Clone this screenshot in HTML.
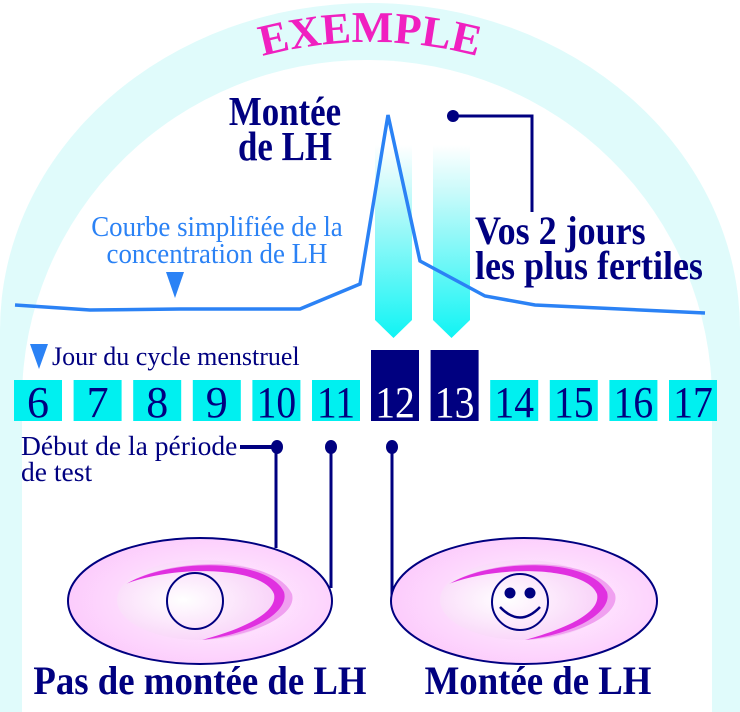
<!DOCTYPE html>
<html><head><meta charset="utf-8"><style>
html,body{margin:0;padding:0;background:#fff;}
svg{display:block;}
text{font-family:"Liberation Serif",serif;}
</style></head><body>
<svg width="740" height="712" viewBox="0 0 740 712" xmlns="http://www.w3.org/2000/svg">
<defs>
<linearGradient id="col" x1="0" y1="0" x2="0" y2="1">
<stop offset="0" stop-color="#ffffff"/><stop offset="0.25" stop-color="#c8fafa"/><stop offset="1" stop-color="#10f4f4"/></linearGradient>
<radialGradient id="ell" cx="0.55" cy="0.5" r="0.6">
<stop offset="0" stop-color="#fff4ff"/><stop offset="1" stop-color="#fcc8fc"/></radialGradient>
<radialGradient id="inn" cx="0.4" cy="0.5" r="0.6">
<stop offset="0" stop-color="#ffffff"/><stop offset="1" stop-color="#f8d0f8"/></radialGradient>
<path id="arc" d="M230,66 Q370,18 510,66"/>
<g id="cres">
<path d="M-76,-16 C-30,-44 72,-44 90,-6 C96,16 50,36 2,40 C48,30 82,14 80,-6 C70,-34 -20,-38 -76,-16 Z" fill="#f0a0f0"/>
<path d="M-74,-17 C-30,-42 66,-42 82,-8 C88,12 50,34 0,40 C44,28 76,12 72,-6 C62,-32 -20,-36 -74,-17 Z" fill="#e030e0"/>
</g>
</defs>
<rect width="740" height="712" fill="#e0fbfb"/>
<path d="M22,712 L22,400 A345,340 0 0 1 712,400 L712,712 Z" fill="#fff"/>
<path d="M0,330 A370,327 0 0 1 740,330 L740,0 L0,0 Z" fill="#fff"/>
<text font-size="44" font-weight="bold" fill="#f020c0"><textPath href="#arc" startOffset="50%" text-anchor="middle">EXEMPLE</textPath></text>
<text x="285" y="125" font-size="41" font-weight="bold" fill="#000080" text-anchor="middle" transform="translate(285 0) scale(0.85 1) translate(-285 0)">Montée</text>
<text x="285" y="160" font-size="41" font-weight="bold" fill="#000080" text-anchor="middle" transform="translate(285 0) scale(0.85 1) translate(-285 0)">de LH</text>
<path d="M375,145 H412 V320 L393.5,338 L375,320 Z" fill="url(#col)"/>
<path d="M433,145 H470 V320 L451.5,338 L433,320 Z" fill="url(#col)"/>
<polyline points="15,305 90,310 180,309 300,309 360,284 388,115 420,261 485,296 535,305 705,313" fill="none" stroke="#2b82f5" stroke-width="3.5"/>
<circle cx="453" cy="116" r="6" fill="#000080"/>
<polyline points="453,116 532,116 532,212" fill="none" stroke="#000080" stroke-width="3"/>
<text x="475" y="244" font-size="40" font-weight="bold" fill="#000080" transform="translate(475 0) scale(0.9 1) translate(-475 0)">Vos 2 jours</text>
<text x="475" y="279" font-size="40" font-weight="bold" fill="#000080" transform="translate(475 0) scale(0.9 1) translate(-475 0)">les plus fertiles</text>
<text x="217" y="236" font-size="28" fill="#2b82f5" text-anchor="middle" transform="translate(217 0) scale(0.96 1) translate(-217 0)">Courbe simplifiée de la</text>
<text x="217" y="263" font-size="28" fill="#2b82f5" text-anchor="middle" transform="translate(217 0) scale(0.96 1) translate(-217 0)">concentration de LH</text>
<polygon points="166,272 184,272 175,298" fill="#2b82f5"/>
<polygon points="30,344 48,344 39,369" fill="#2b82f5"/>
<text x="52" y="365" font-size="26" fill="#000080">Jour du cycle menstruel</text>
<g font-size="44" text-anchor="middle">
<rect x="14" y="380" width="48" height="41" fill="#00f0f0"/><text x="38" y="417" fill="#000080">6</text>
<rect x="73.6" y="380" width="48" height="41" fill="#00f0f0"/><text x="97.6" y="417" fill="#000080">7</text>
<rect x="133.2" y="380" width="48" height="41" fill="#00f0f0"/><text x="157.2" y="417" fill="#000080">8</text>
<rect x="192.8" y="380" width="48" height="41" fill="#00f0f0"/><text x="216.8" y="417" fill="#000080">9</text>
<rect x="252.4" y="380" width="48" height="41" fill="#00f0f0"/><text x="276.4" y="417" fill="#000080" transform="translate(276.4 0) scale(0.9 1) translate(-276.4 0)">10</text>
<rect x="312" y="380" width="48" height="41" fill="#00f0f0"/><text x="336" y="417" fill="#000080" transform="translate(336 0) scale(0.9 1) translate(-336 0)">11</text>
<rect x="371" y="350" width="48" height="71" fill="#000080"/><text x="395" y="417" fill="#fff" transform="translate(395 0) scale(0.9 1) translate(-395 0)">12</text>
<rect x="430.6" y="350" width="48" height="71" fill="#000080"/><text x="454.6" y="417" fill="#fff" transform="translate(454.6 0) scale(0.9 1) translate(-454.6 0)">13</text>
<rect x="490.2" y="380" width="48" height="41" fill="#00f0f0"/><text x="514.2" y="417" fill="#000080" transform="translate(514.2 0) scale(0.9 1) translate(-514.2 0)">14</text>
<rect x="549.8" y="380" width="48" height="41" fill="#00f0f0"/><text x="573.8" y="417" fill="#000080" transform="translate(573.8 0) scale(0.9 1) translate(-573.8 0)">15</text>
<rect x="609.4" y="380" width="48" height="41" fill="#00f0f0"/><text x="633.4" y="417" fill="#000080" transform="translate(633.4 0) scale(0.9 1) translate(-633.4 0)">16</text>
<rect x="669" y="380" width="48" height="41" fill="#00f0f0"/><text x="693" y="417" fill="#000080" transform="translate(693 0) scale(0.9 1) translate(-693 0)">17</text>
</g>
<text x="21" y="455" font-size="27" fill="#000080" transform="translate(21 0) scale(1.02 1) translate(-21 0)">Début de la période</text>
<text x="21" y="481" font-size="27" fill="#000080" transform="translate(21 0) scale(1.02 1) translate(-21 0)">de test</text>
<line x1="240" y1="447" x2="277" y2="447" stroke="#000080" stroke-width="4"/>
<g stroke="#000080" stroke-width="3">
<line x1="276" y1="447" x2="276" y2="548"/>
<line x1="331" y1="447" x2="331" y2="588"/>
<line x1="392" y1="447" x2="392" y2="600"/>
</g>
<g fill="#000080"><ellipse cx="277" cy="447" rx="6" ry="7"/><ellipse cx="331" cy="447" rx="6" ry="7"/><ellipse cx="392" cy="447" rx="6" ry="7"/></g>
<g>
<ellipse cx="200" cy="601" rx="132" ry="63" fill="url(#ell)" stroke="#000080" stroke-width="2"/>
<ellipse cx="200" cy="600" rx="83" ry="40" fill="url(#inn)"/>
<use href="#cres" x="202" y="600"/>
<circle cx="195" cy="601" r="28" fill="none" stroke="#000080" stroke-width="2"/>
</g>
<g>
<ellipse cx="524" cy="601" rx="133" ry="63" fill="url(#ell)" stroke="#000080" stroke-width="2"/>
<ellipse cx="523" cy="600" rx="83" ry="40" fill="url(#inn)"/>
<use href="#cres" x="525" y="600"/>
<circle cx="520" cy="602" r="28" fill="none" stroke="#000080" stroke-width="2"/>
<circle cx="510" cy="593" r="5.5" fill="#000080"/><circle cx="530" cy="593" r="5.5" fill="#000080"/>
<path d="M500,607 Q520,628 540,607" fill="none" stroke="#000080" stroke-width="2.5"/>
</g>
<text x="200" y="694" font-size="40" font-weight="bold" fill="#000080" text-anchor="middle" transform="translate(200 0) scale(0.92 1) translate(-200 0)">Pas de montée de LH</text>
<text x="538" y="694" font-size="40" font-weight="bold" fill="#000080" text-anchor="middle" transform="translate(538 0) scale(0.92 1) translate(-538 0)">Montée de LH</text>
</svg>
</body></html>
